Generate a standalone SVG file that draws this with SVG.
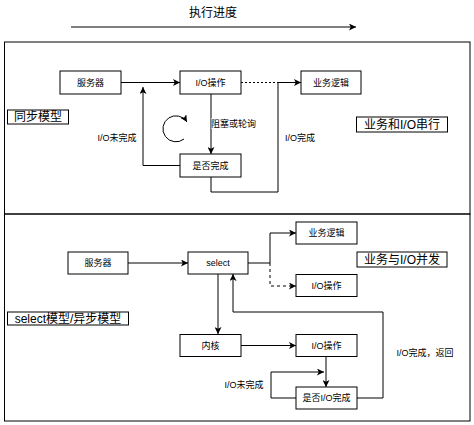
<svg xmlns="http://www.w3.org/2000/svg" width="474" height="425" viewBox="0 0 474 425">
<defs>
<style>
.n rect{fill:#fff;stroke:#000;stroke-width:1}
text{font-family:"Liberation Sans","Noto Sans CJK SC",sans-serif;fill:#000;text-anchor:middle;dominant-baseline:central}
.t9{font-size:9px}
.t12{font-size:12px}
.e{fill:none;stroke:#000;stroke-width:1}
.dot{stroke-dasharray:2 2}
.dash{stroke-dasharray:3 3}
.panel{fill:none;stroke:#000;stroke-width:1}
.lbl{fill:#fff;stroke:#000;stroke-width:1}
</style>
<marker id="a" viewBox="0 0 10 10" refX="10" refY="5" markerWidth="7" markerHeight="7" markerUnits="userSpaceOnUse" orient="auto">
<path d="M0,0 L10,5 L0,10 L2.5,5 Z" fill="#000"/>
</marker>
</defs>
<rect width="474" height="425" fill="#fff"/>

<g id="header">
<text class="t12" x="213" y="13">执行进度</text>
<line class="e" x1="71" y1="27" x2="356" y2="27" marker-end="url(#a)"/>
</g>

<g id="panels">
<rect class="panel" x="4.5" y="42" width="465.5" height="172"/>
<rect class="panel" x="4.5" y="214" width="465.5" height="207"/>
</g>

<g id="connectors">
<!-- upper -->
<line class="e" x1="121" y1="82.5" x2="180" y2="82.5" marker-end="url(#a)"/>
<line class="e dot" x1="241" y1="82.5" x2="278" y2="82.5"/>
<line class="e" x1="211" y1="94" x2="211" y2="154" marker-end="url(#a)"/>
<polyline class="e" points="180,165.5 143,165.5 143,87" marker-end="url(#a)"/>
<polyline class="e" points="211,177 211,192 278,192 278,82.5 301,82.5" marker-end="url(#a)"/>
<path class="e" d="M184,139 A13,13 0 1 1 187,122" marker-end="url(#a)"/>
<!-- lower -->
<line class="e" x1="128" y1="263" x2="188" y2="263" marker-end="url(#a)"/>
<polyline class="e" points="248,263 270,263 270,233 296,233" marker-end="url(#a)"/>
<polyline class="e dash" points="270,263 270,286 296,286" marker-end="url(#a)"/>
<line class="e" x1="218" y1="274" x2="218" y2="334" marker-end="url(#a)"/>
<line class="e" x1="241" y1="345.5" x2="296" y2="345.5" marker-end="url(#a)"/>
<line class="e" x1="326" y1="357" x2="326" y2="387" marker-end="url(#a)"/>
<polyline class="e" points="296,398 271,398 271,372 324,372" marker-end="url(#a)"/>
<polyline class="e" points="357,398 383,398 383,312 233,312 233,274" marker-end="url(#a)"/>
</g>

<g id="edge-labels">
<rect x="211.5" y="118" width="44" height="11" fill="#fff"/>
<text class="t9" x="233.5" y="123.5">阻塞或轮询</text>
<text class="t9" x="117" y="138">I/O未完成</text>
<text class="t9" x="300" y="138">I/O完成</text>
<text class="t9" x="244" y="385">I/O未完成</text>
<text class="t9" x="425" y="353">I/O完成，返回</text>
</g>

<g id="n-server1" class="n"><rect x="60" y="71" width="61" height="23"/><text class="t9" x="90.5" y="82.5">服务器</text></g>
<g id="n-io1" class="n"><rect x="180" y="71" width="61" height="23"/><text class="t9" x="210.5" y="82.5">I/O操作</text></g>
<g id="n-biz1" class="n"><rect x="301" y="71" width="60" height="23"/><text class="t9" x="331" y="82.5">业务逻辑</text></g>
<g id="n-done1" class="n"><rect x="180" y="154" width="61" height="23"/><text class="t9" x="210.5" y="165.5">是否完成</text></g>

<g id="lbl-sync"><rect class="lbl" x="7.5" y="110" width="61" height="14"/><text class="t12" x="38" y="117">同步模型</text></g>
<g id="lbl-serial"><rect class="lbl" x="356.5" y="117" width="91" height="15"/><text class="t12" x="402" y="124.5">业务和I/O串行</text></g>

<g id="n-server2" class="n"><rect x="68" y="252" width="60" height="22"/><text class="t9" x="98" y="263">服务器</text></g>
<g id="n-select" class="n"><rect x="188" y="252" width="60" height="22"/><text class="t9" x="218" y="263">select</text></g>
<g id="n-biz2" class="n"><rect x="296" y="222" width="61" height="22"/><text class="t9" x="326.5" y="233">业务逻辑</text></g>
<g id="n-io2" class="n"><rect x="296" y="274.5" width="61" height="22"/><text class="t9" x="326.5" y="285.5">I/O操作</text></g>
<g id="n-kernel" class="n"><rect x="180" y="334.5" width="61" height="22"/><text class="t9" x="210.5" y="345.5">内核</text></g>
<g id="n-io3" class="n"><rect x="296" y="334.5" width="61" height="22"/><text class="t9" x="326.5" y="345.5">I/O操作</text></g>
<g id="n-done2" class="n"><rect x="296" y="387" width="61" height="22"/><text class="t9" x="326.5" y="398">是否I/O完成</text></g>

<g id="lbl-select"><rect class="lbl" x="7.5" y="312" width="121" height="13"/><text class="t12" x="68" y="318.5">select模型/异步模型</text></g>
<g id="lbl-conc"><rect class="lbl" x="357" y="252" width="90" height="15"/><text class="t12" x="402" y="259.5">业务与I/O并发</text></g>
</svg>
